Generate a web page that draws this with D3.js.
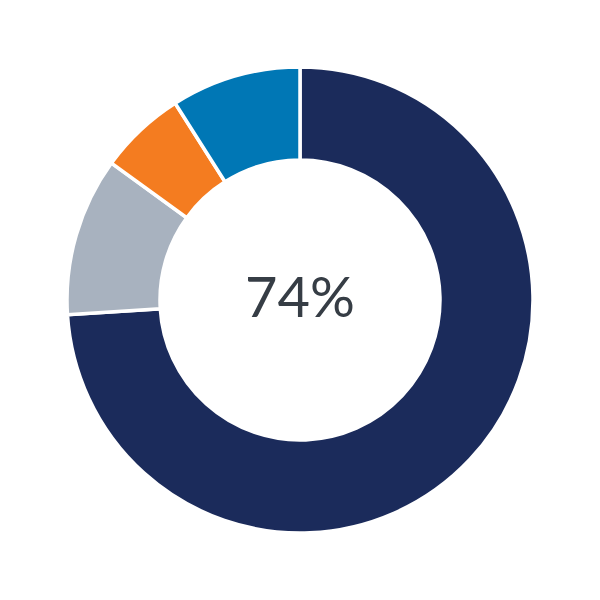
<!DOCTYPE html>
<html>
<head>
<meta charset="utf-8">
<script src="https://cdn.jsdelivr.net/npm/d3@7"></script>
<style>
  body { margin: 0; background: #fff; }
</style>
</head>
<body>
<div id="donut"></div>
<script>
// slice data, clockwise from the top
var labels = ["Main", "Other A", "Other B", "Other C"];
var values = [74, 11, 6, 9];
var colors = ["#1b2b5b", "#a8b2bf", "#f47c20", "#0077b5"];
var centerLabel = "74%";

var width = 600;
var height = 600;
var outerR = 233;
var innerR = 140;

var svg = d3.select("#donut").append("svg")
    .attr("width", width)
    .attr("height", height);

var g = svg.append("g")
    .attr("transform", "translate(" + width / 2 + "," + height / 2 + ")");

var pie = d3.pie().sort(null).value(function(d) { return d; });
var arc = d3.arc().innerRadius(innerR).outerRadius(outerR);

g.selectAll("path")
    .data(pie(values))
    .enter().append("path")
        .attr("d", arc)
        .style("fill", function(d, i) { return colors[i]; })
        .style("stroke", "#fff")
        .style("stroke-width", 3.5);

g.append("text")
    .attr("text-anchor", "middle")
    .attr("dy", "0.3em")
    .style("font-family", "Lato, 'Open Sans', sans-serif")
    .style("font-weight", 400)
    .style("font-size", "56px")
    .style("fill", "#363d45")
    .text(centerLabel);
</script>
</body>
</html>
